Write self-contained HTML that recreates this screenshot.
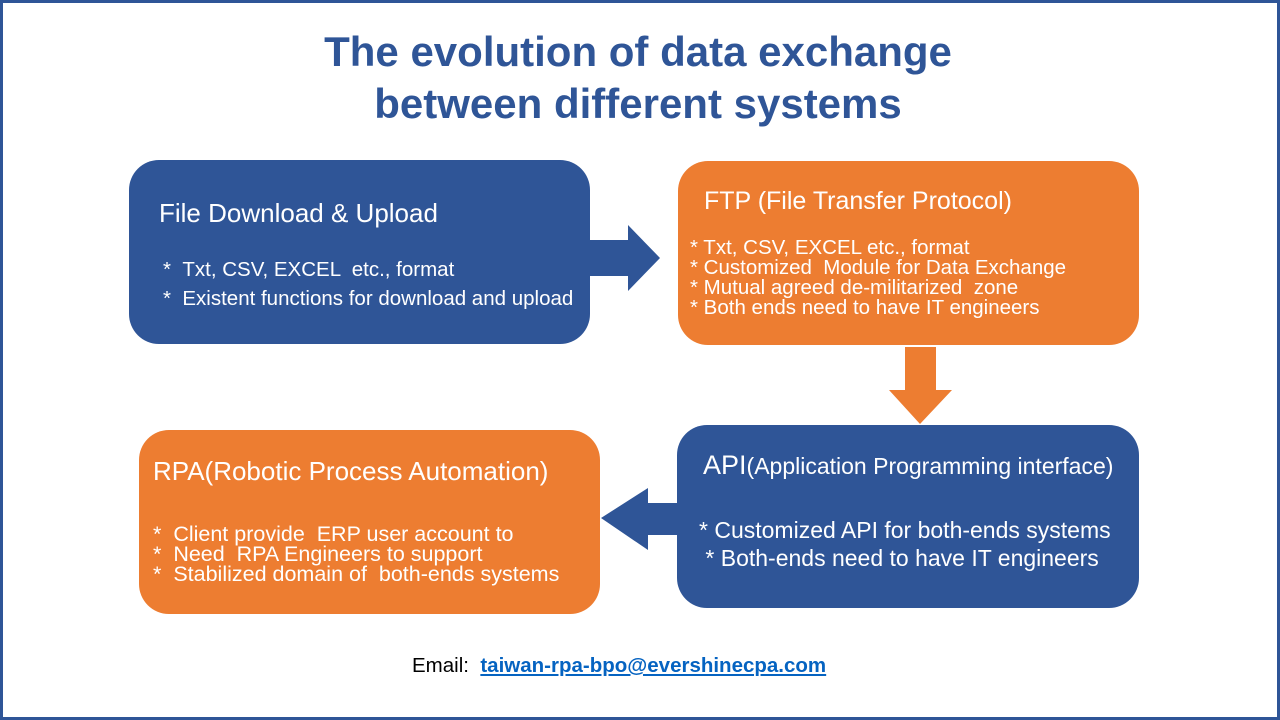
<!DOCTYPE html>
<html><head><meta charset="utf-8"><style>
body{margin:0;width:1280px;height:720px;position:relative;background:#fff;font-family:"Liberation Sans",Arial,sans-serif;overflow:hidden}
.frame{position:absolute;left:0;top:0;width:1274px;height:714px;border:3px solid #2F5597}
.t{position:absolute;left:0;width:1276px;text-align:center;color:#2F5597;font-weight:bold;font-size:42px;line-height:48px}
.box{position:absolute;border-radius:30px;color:#fff}
.b{background:#2F5597}.o{background:#ED7D31}
.p{position:absolute;white-space:nowrap}
</style></head><body>
<div class="frame"></div>
<div class="t" style="top:28px">The evolution of data exchange</div>
<div class="t" style="top:80px">between different systems</div>

<div class="box b" style="left:129px;top:160px;width:461px;height:184px">
<div class="p" style="left:30px;top:38px;font-size:26px;line-height:30px">File Download &amp; Upload</div>
<div class="p" style="left:34px;top:98px;font-size:20.5px;line-height:24px">* &nbsp;Txt, CSV, EXCEL &nbsp;etc., format</div>
<div class="p" style="left:34px;top:127px;font-size:20.5px;line-height:24px">* &nbsp;Existent functions for download and upload</div>
</div>

<div class="box o" style="left:678px;top:161px;width:461px;height:184px">
<div class="p" style="left:26px;top:25px;font-size:25px;line-height:30px">FTP (File Transfer Protocol)</div>
<div class="p" style="left:12px;top:77px;font-size:20.5px;line-height:20px">* Txt, CSV, EXCEL etc., format<br>* Customized &nbsp;Module for Data Exchange<br>* Mutual agreed de-militarized &nbsp;zone<br>* Both ends need to have IT engineers</div>
</div>

<div class="box b" style="left:677px;top:425px;width:462px;height:183px">
<div class="p" style="left:26px;top:25px;font-size:23px;line-height:30px"><span style="font-size:27px">API</span>(Application Programming interface)</div>
<div class="p" style="left:22px;top:91px;font-size:23px;line-height:28px">* Customized API for both-ends systems<br>&nbsp;* Both-ends need to have IT engineers</div>
</div>

<div class="box o" style="left:139px;top:430px;width:461px;height:184px">
<div class="p" style="left:14px;top:26px;font-size:26px;line-height:30px">RPA(Robotic Process Automation)</div>
<div class="p" style="left:14px;top:94px;font-size:21.5px;line-height:20px">* &nbsp;Client provide &nbsp;ERP user account to<br>* &nbsp;Need &nbsp;RPA Engineers to support<br>* &nbsp;Stabilized domain of &nbsp;both-ends systems</div>
</div>

<svg style="position:absolute;left:0;top:0" width="1280" height="720">
<polygon fill="#2F5597" points="590,240 628,240 628,225 660,258 628,291 628,276 590,276"/>
<polygon fill="#ED7D31" points="905,347 936,347 936,390 952,390 920,424 889,390 905,390"/>
<polygon fill="#2F5597" points="677,503 648,503 648,488 601,518 648,550 648,535 677,535"/>
</svg>

<div class="p" style="left:412px;top:654px;font-size:20.5px;line-height:24px;color:#000">Email: &nbsp;<span style="color:#0563C1;font-weight:bold;text-decoration:underline">taiwan-rpa-bpo@evershinecpa.com</span></div>
</body></html>
